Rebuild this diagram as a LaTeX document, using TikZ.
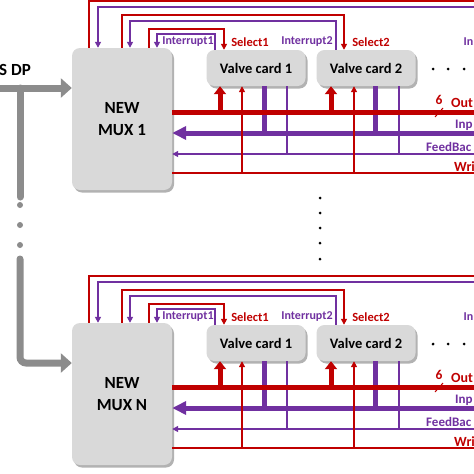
\documentclass[tikz,border=0pt]{standalone}
\usepackage{fontspec}
\setmainfont{Carlito}
\usetikzlibrary{arrows.meta,shadows}
\definecolor{myred}{HTML}{C00000}
\definecolor{mypur}{HTML}{7030A0}
\definecolor{boxgray}{HTML}{D9D9D9}
\definecolor{arrgray}{HTML}{8C8C8C}
\tikzset{
  muxbox/.style={draw=none,fill=boxgray,rounded corners=8pt,minimum width=100pt,minimum height=142pt,inner sep=0pt,
    align=center,font=\fontsize{17}{22}\selectfont\bfseries,
    drop shadow={shadow xshift=2pt,shadow yshift=-2.5pt,opacity=.3,fill=black}},
  cardbox/.style={draw=none,fill=boxgray,rounded corners=8pt,minimum width=99pt,minimum height=36pt,inner sep=0pt,
    font=\fontsize{14.5}{16}\selectfont\bfseries,
    drop shadow={shadow xshift=2pt,shadow yshift=-2.5pt,opacity=.3,fill=black}},
  redthin/.style={draw=myred,line width=2pt},
  purthin/.style={draw=mypur,line width=2pt},
  redthick/.style={draw=myred,line width=5pt},
  purthick/.style={draw=mypur,line width=5pt},
  tipthin/.style={-{Triangle[length=6pt,width=6pt]}},
  tipthick/.style={-{Triangle[length=8pt,width=12pt]}},
  tipbus/.style={-{Triangle[length=14pt,width=13pt]}},
  redlab/.style={text=myred,font=\fontsize{12.5}{14}\selectfont\bfseries,inner sep=0pt},
  purlab/.style={text=mypur,font=\fontsize{12}{14}\selectfont\bfseries,inner sep=0pt},
  grayline/.style={draw=arrgray,line width=7pt},
  dotmark/.style={circle,fill=black,inner sep=0pt,minimum size=3pt},
  graydot/.style={circle,fill=arrgray,inner sep=0pt,minimum size=6pt},
}
\begin{document}
\begin{tikzpicture}[x=1pt,y=-1pt]
\useasboundingbox (0,0) rectangle (474,474);
\clip (0,0) rectangle (474,474);
\fill[white] (0,0) rectangle (474,474);

\foreach \m/\dy in {1/0,N/275} {
\begin{scope}[yshift=-\dy pt]
  % nodes
  \node[muxbox] (mux\m) at (122,119) {NEW\\MUX \m};
  \node[cardbox] (vca\m) at (256,68) {Valve card 1};
  \node[cardbox] (vcb\m) at (366,68) {Valve card 2};
  % coordinates
  \coordinate (r1\m) at (89,1);
  \coordinate (p1\m) at (98,7);
  \coordinate (r2\m) at (122,15);
  \coordinate (p2\m) at (130,21);
  \coordinate (r3\m) at (149,29);
  \coordinate (p3\m) at (157,34);
  \coordinate (sa\m) at (224,0);
  \coordinate (ia\m) at (215,0);
  \coordinate (sb\m) at (344,0);
  \coordinate (ib\m) at (336,0);
  \coordinate (bo\m) at (480,112);
  \coordinate (bi\m) at (480,133);
  \coordinate (bf\m) at (480,154);
  \coordinate (bw\m) at (480,173);
  \coordinate (xa\m) at (220,0);
  \coordinate (wa\m) at (242,0);
  \coordinate (ya\m) at (264,0);
  \coordinate (fa\m) at (287,0);
  \coordinate (xb\m) at (331,0);
  \coordinate (wb\m) at (354,0);
  \coordinate (yb\m) at (375,0);
  \coordinate (fb\m) at (399,0);
  % top select / interrupt loops
  \draw[purthin,tipthin] (p1\m -| bo\m) -- (p1\m) -- (mux\m.north -| p1\m);
  \draw[purthin,tipthin] (vcb\m.north -| ib\m) -- (p2\m -| ib\m) -- (p2\m) -- (mux\m.north -| p2\m);
  \draw[purthin,tipthin] (vca\m.north -| ia\m) -- (p3\m -| ia\m) -- (p3\m) -- (mux\m.north -| p3\m);
  \draw[redthin] (mux\m.north -| r1\m) -- (r1\m) -- (r1\m -| bo\m);
  \draw[redthin,tipthin] (mux\m.north -| r2\m) -- (r2\m) -- (r2\m -| sb\m) -- (vcb\m.north -| sb\m);
  \draw[redthin,tipthin] (mux\m.north -| r3\m) -- (r3\m) -- (r3\m -| sa\m) -- (vca\m.north -| sa\m);
  % purple buses and drops
  \draw[purthick,tipbus] (bi\m) -- (mux\m.east |- bi\m);
  \draw[purthin,tipthin] (bf\m) -- (mux\m.east |- bf\m);
  \draw[purthick] (vca\m.south -| ya\m) -- (bi\m -| ya\m);
  \draw[purthick] (vcb\m.south -| yb\m) -- (bi\m -| yb\m);
  \draw[purthin] (vca\m.south -| fa\m) -- (bf\m -| fa\m);
  \draw[purthin] (vcb\m.south -| fb\m) -- (bf\m -| fb\m);
  % red buses and risers
  \draw[redthick] (mux\m.east |- bo\m) -- (bo\m);
  \draw[redthin] (mux\m.east |- bw\m) -- (bw\m);
  \draw[redthick,tipthick] (bo\m -| xa\m) -- (vca\m.south -| xa\m);
  \draw[redthick,tipthick] (bo\m -| xb\m) -- (vcb\m.south -| xb\m);
  \draw[redthin,tipthin] (bw\m -| wa\m) -- (vca\m.south -| wa\m);
  \draw[redthin,tipthin] (bw\m -| wb\m) -- (vcb\m.south -| wb\m);
  \draw[myred,line width=1pt] (435,117) -- (443,108);
  % labels
  \node[purlab] (li1\m) at (188,42) {Interrupt1};
  \node[redlab] (ls1\m) at (250,42) {Select1};
  \node[purlab] (li2\m) at (307,42) {Interrupt2};
  \node[redlab] (ls2\m) at (371,42) {Select2};
  \node[purlab,anchor=east] (li3\m) at (473.5,42) {In};
  \node[redlab,font=\fontsize{13.5}{14}\selectfont\bfseries] (l6\m) at (439,100) {6};
  \node[redlab,anchor=west,font=\fontsize{14}{16}\selectfont\bfseries] (lo\m) at (451,103) {Out};
  \node[purlab,anchor=west,font=\fontsize{13}{16}\selectfont\bfseries] (lin\m) at (455,125) {Inp};
  \node[purlab,anchor=west,font=\fontsize{13}{16}\selectfont\bfseries] (lf\m) at (426,147) {FeedBac};
  \node[redlab,anchor=west,font=\fontsize{14}{16}\selectfont\bfseries] (lw\m) at (454,167) {Wri};
  \node[dotmark] (da\m) at (433,69) {};
  \node[dotmark] (db\m) at (448,69) {};
  \node[dotmark] (dc\m) at (464,69) {};
\end{scope}
}

% source and feed
\node[anchor=west,inner sep=0pt,font=\fontsize{17}{20}\selectfont\bfseries] (src) at (-1,70) {S DP};
\coordinate (g0) at (-10,88);
\coordinate (gs) at (20,88);
\coordinate (ge) at (20,197);
\coordinate (gr) at (20,259);
\coordinate (gc) at (20,363);
\draw[grayline,-{Triangle[length=11pt,width=19pt]}] (g0) -- (mux1.west |- g0);
\draw[grayline,line cap=round] (gs) -- (ge);
\draw[grayline,line cap=round,rounded corners=6pt,-{Triangle[length=11pt,width=19pt]}] (gr) -- (gc) -- (muxN.west |- gc);
\node[graydot] (gd1) at (20,205) {};
\node[graydot] (gd2) at (20,225) {};
\node[graydot] (gd3) at (20,245) {};

% vertical dots between modules
\foreach \yy [count=\i] in {198,213,228,243,259} {
  \node[dotmark] (vd\i) at (320,\yy) {};
}
\end{tikzpicture}
\end{document}
